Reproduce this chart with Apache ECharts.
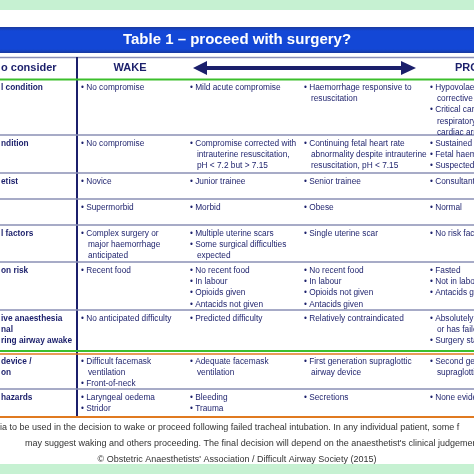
<!DOCTYPE html>
<html><head><meta charset="utf-8">
<script src="https://cdn.jsdelivr.net/npm/echarts@6/dist/echarts.min.js"></script>
<style>html,body{margin:0;padding:0;background:#fff}#c{width:474px;height:474px}</style>
</head><body><div id="c"></div>
<script>
const title = "Table 1 – proceed with surgery?";
const headers = ["o consider", "WAKE", "", "", "PROCEED"];
const rowLabels = ["l condition","ndition","etist","","l factors","on risk","ive anaesthesia\nnal\nring airway awake","device /\non","hazards"];
const wakeCol = ["• No compromise","• No compromise","• Novice","• Supermorbid","• Complex surgery or\n   major haemorrhage\n   anticipated","• Recent food","• No anticipated difficulty","• Difficult facemask\n   ventilation\n• Front-of-neck","• Laryngeal oedema\n• Stridor"];
const mid1Col = ["• Mild acute compromise","• Compromise corrected with\n   intrauterine resuscitation,\n   pH < 7.2 but > 7.15","• Junior trainee","• Morbid","• Multiple uterine scars\n• Some surgical difficulties\n   expected","• No recent food\n• In labour\n• Opioids given\n• Antacids not given","• Predicted difficulty","• Adequate facemask\n   ventilation","• Bleeding\n• Trauma"];
const mid2Col = ["• Haemorrhage responsive to\n   resuscitation","• Continuing fetal heart rate\n   abnormality despite intrauterine\n   resuscitation, pH < 7.15","• Senior trainee","• Obese","• Single uterine scar","• No recent food\n• In labour\n• Opioids not given\n• Antacids given","• Relatively contraindicated","• First generation supraglottic\n   airway device","• Secretions"];
const proceedCol = ["• Hypovolaemia requiring\n   corrective surgery\n• Critical cardiac or\n   respiratory compromise,\n   cardiac arrest","• Sustained bradycardia\n• Fetal haemorrhage\n• Suspected uterine rupture","• Consultant","• Normal","• No risk factors","• Fasted\n• Not in labour\n• Antacids given","• Absolutely contraindicated\n   or has failed\n• Surgery started","• Second generation\n   supraglottic airway device","• None evident"];
const footer = ["ia to be used in the decision to wake or proceed following failed tracheal intubation. In any individual patient, some f",
 "may suggest waking and others proceeding. The final decision will depend on the anaesthetist's clinical judgement.",
 "© Obstetric Anaesthetists' Association / Difficult Airway Society (2015)"];
// table geometry (pixel space of a 474x474 axis)
const colStarts = [1, 81, 190, 304, 430];
const rowTops = [80, 136, 174, 200, 226, 263, 311, 354, 390, 416];

const cols = [rowLabels, wakeCol, mid1Col, mid2Col, proceedCol];
const cells = [];
cols.forEach((c, ci) => c.forEach((t, ri) => cells.push([colStarts[ci], rowTops[ri] + 1.8, t, ci])));

const navy = '#1b1f6b';
const ch = echarts.init(document.getElementById('c'));
const line = (x1,y1,x2,y2,color,w)=>({type:'line',shape:{x1,y1,x2,y2},style:{stroke:color,lineWidth:w},z:5});
const g = [
  {type:'rect',shape:{x:0,y:0,width:474,height:10},style:{fill:'#c6f1d2'}},
  {type:'rect',shape:{x:0,y:464,width:474,height:10},style:{fill:'#c6f1d2'}},
  {type:'rect',shape:{x:0,y:27,width:474,height:26},style:{fill:new echarts.graphic.LinearGradient(0,0,0,1,[{offset:0,color:'#1a3a9e'},{offset:0.15,color:'#1347d6'},{offset:0.85,color:'#1347d6'},{offset:1,color:'#1a3a9e'}])}},
  {type:'text',x:237,y:40,style:{text:title,fill:'#fff',font:'bold 15px "Liberation Sans", Arial',align:'center',verticalAlign:'middle'}},
  line(0,57.5,474,57.5,'#8a8fb5',1.5),
  {type:'text',x:1,y:68,style:{text:headers[0],fill:navy,font:'bold 11px "Liberation Sans"',verticalAlign:'middle'}},
  {type:'text',x:130,y:68,style:{text:headers[1],fill:navy,font:'bold 11px "Liberation Sans"',align:'center',verticalAlign:'middle'}},
  {type:'text',x:455,y:68,style:{text:headers[4],fill:navy,font:'bold 11px "Liberation Sans"',verticalAlign:'middle'}},
  line(205,68,403,68,navy,4),
  {type:'polygon',shape:{points:[[193,68],[207,61],[207,75]]},style:{fill:navy}},
  {type:'polygon',shape:{points:[[416,68],[401,61],[401,75]]},style:{fill:navy}},
  line(77,57,77,416,navy,2),
  line(0,79.5,474,79.5,'#3cbf2c',2),
  line(0,351,474,351,'#3cbf2c',2),
  line(0,354,474,354,'#e07a20',1.5),
  line(0,417,474,417,'#e07a20',2),
];
[136,174,200,226,263,311,390].forEach(y=>g.push(line(0,y-1,474,y-1,'#8a8fb5',1.5)));
footer.forEach((t,i)=>g.push({type:'text',x:i==0?0:(i==1?25:237),y:428+i*16,style:{text:t,fill:'#333',font:'9px "Liberation Sans"',align:i==2?'center':'left',verticalAlign:'middle'}}));

ch.setOption({
  animation:false,
  grid:{left:0,right:0,top:0,bottom:0},
  xAxis:{type:'value',min:0,max:474,show:false},
  yAxis:{type:'value',min:0,max:474,inverse:true,show:false},
  graphic:g,
  series:[{type:'custom',clip:false,data:cells,z:10,
    renderItem:(p,api)=>{
      const pt=api.coord([api.value(0),api.value(1)]);
      const ci=api.value(3);
      return {type:'text',x:pt[0],y:pt[1],style:{text:cells[p.dataIndex][2],fill:navy,
        font:(ci==0?'bold ':'')+'8.3px "Liberation Sans", Arial',lineHeight:11.3}};
    }}]
});
</script></body></html>
